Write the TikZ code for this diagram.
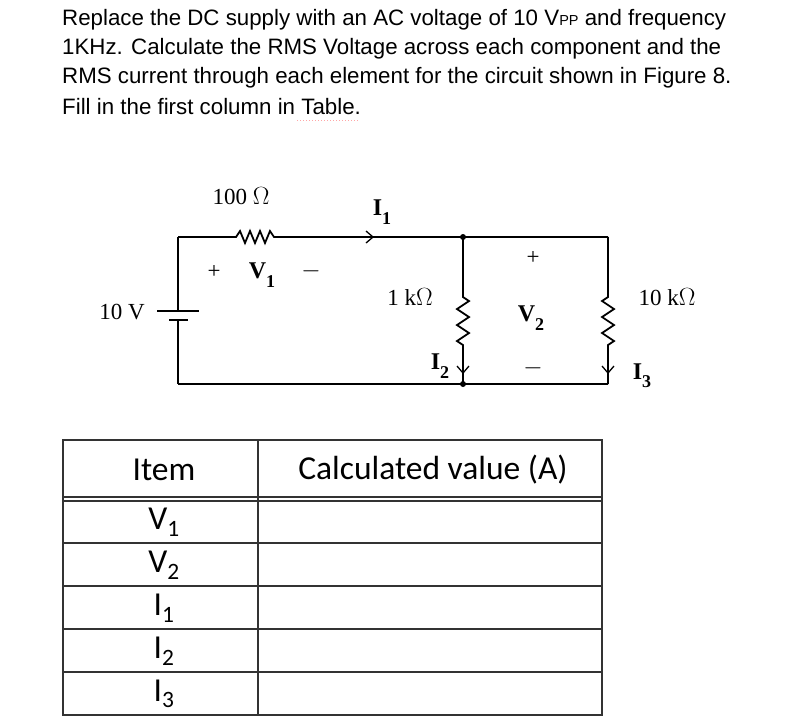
\documentclass[tikz,border=0pt]{standalone}
\usepackage{fontspec}
\setmainfont{Liberation Sans}
\newfontfamily\cktfont{Liberation Serif}
\newfontfamily\calfont{Carlito}
\newcommand{\csub}[1]{\raisebox{-0.35em}{\fontsize{18}{18}\selectfont #1}}
\begin{document}
\begin{tikzpicture}[x=1pt,y=-1pt,
  wire/.style={line width=1.8pt},
  ctxt/.style={font=\cktfont\fontsize{23}{23}\selectfont, inner sep=0pt},
  btxt/.style={font=\cktfont\bfseries\fontsize{24}{24}\selectfont, inner sep=0pt},
  para/.style={font=\fontsize{22.3}{29}\selectfont, anchor=west, inner sep=0pt},
  ttxt/.style={font=\calfont\fontsize{33.5}{33.5}\selectfont, inner sep=0pt},
  tline/.style={line width=1.3pt, draw=black!80}]
\useasboundingbox (0,0) rectangle (812,718);
% paragraph
\node[para] (l1) at (62,20) {Replace the DC supply with an AC voltage of 10 V{\fontsize{14.5}{14.5}\selectfont PP} and frequency};
\node[para] (l2) at (62,49) {1KHz. Calculate the RMS Voltage across each component and the};
\node[para] (l3) at (62,78) {RMS current through each element for the circuit shown in Figure 8.};
\node[para] (l4) at (62,107) {Fill in the first column in Table.};
\draw[red!35, line width=1pt, dotted] (297,120) -- (358,120);
% circuit coordinates
\coordinate (tl) at (178,237);
\coordinate (bl) at (178,384);
\coordinate (jt) at (463,237);
\coordinate (jb) at (463,384);
\coordinate (tr) at (608,237);
\coordinate (br) at (608,384);
% battery
\draw[wire] (tl) -- (178,311);
\draw[wire] (157,311) -- (199,311);
\draw[wire] (169,320) -- (188,320);
\draw[wire] (178,320) -- (bl);
% top wire with 100 ohm
\draw[wire] (tl) -- (236,237) -- (240,231) -- (245,243) -- (250,231) -- (255,243) -- (260,231) -- (265,243) -- (270,231) -- (274,237) -- (jt) -- (tr);
\draw[wire] (bl) -- (br);
% 1k
\draw[wire] (jt) -- (463,297) -- (469,301) -- (457,309) -- (469,317) -- (457,325) -- (469,333) -- (457,341) -- (463,345) -- (jb);
% 10k
\draw[wire] (tr) -- (608,297) -- (602,301) -- (614,309) -- (602,317) -- (614,325) -- (602,333) -- (614,341) -- (608,345) -- (br);
\fill (jt) circle (3);
\fill (jb) circle (3);
% arrows
\draw[line width=1.3pt] (366,231) -- (373,237) -- (366,243);
\draw[line width=1.3pt] (457,366) -- (463,373) -- (469,366);
\draw[line width=1.3pt] (602,366) -- (608,373) -- (614,366);
% labels
\node[ctxt] (r1) at (241,196) {100 $\Omega$};
\node[ctxt] (r2) at (410,297) {1 k$\Omega$};
\node[ctxt] (r3) at (667,297) {10 k$\Omega$};
\node[ctxt] (vs) at (122,312) {10 V};
\node[btxt] (i1) at (382,212) {I\csub{1}};
\node[btxt] (i2) at (440,366) {I\csub{2}};
\node[btxt] (i3) at (642,376) {I\csub{3}};
\node[btxt] (v1) at (262,275) {V\csub{1}};
\node[btxt] (v2) at (531,318) {V\csub{2}};
\node[ctxt] (p1) at (214,272) {+};
\node[ctxt] (m1) at (311,271) {$-$};
\node[ctxt] (p2) at (533,258) {+};
\node[ctxt] (m2) at (533,368) {$-$};
% table
\draw[tline] (63,440) rectangle (602,715);
\draw[tline] (258,440) -- (258,715);
\draw[tline] (63,497) -- (602,497);
\draw[tline] (63,501) -- (602,501);
\foreach \y in {543,586,629,672} \draw[tline] (63,\y) -- (602,\y);
\node[ttxt] (h1) at (164,470) {Item};
\node[ttxt] (h2) at (433,470) {Calculated value (A)};
\node[ttxt] (t1) at (164,522) {V\textsubscript{1}};
\node[ttxt] (t2) at (164,565) {V\textsubscript{2}};
\node[ttxt] (t3) at (164,608) {I\textsubscript{1}};
\node[ttxt] (t4) at (164,651) {I\textsubscript{2}};
\node[ttxt] (t5) at (164,694) {I\textsubscript{3}};
\end{tikzpicture}
\end{document}
